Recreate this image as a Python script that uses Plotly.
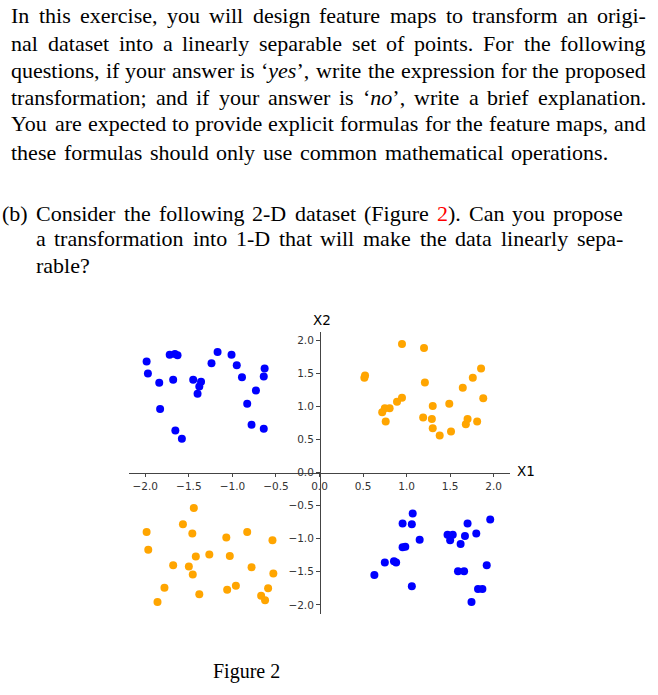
import plotly.graph_objects as go
import re

# ---------------- data ----------------
blue_x = [-1.985, -1.97, -1.84, -1.83, -1.72, -1.66, -1.63, -1.68, -1.655, -1.58,
          -1.45, -1.36, -1.38, -1.40, -1.24, -1.17, -1.01, -0.95, -0.89, -0.83,
          -0.73, -0.78, -0.63, -0.64, -0.64,
          0.63, 0.75, 0.855, 0.88, 0.954, 1.06, 1.07, 1.15, 0.954, 0.985,
          1.06, 1.47, 1.50, 1.53, 1.62, 1.67, 1.70, 1.59, 1.66, 1.80,
          1.96, 1.92, 1.82, 1.87, 1.745]
blue_y = [1.677, 1.495, 1.354, 0.96, 1.78, 1.79, 1.77, 1.40, 0.636, 0.51,
          1.40, 1.37, 1.30, 1.19, 1.65, 1.82, 1.78, 1.62, 1.44, 1.04,
          1.24, 0.72, 1.57, 1.45, 0.66,
          -1.55, -1.36, -1.34, -1.36, -0.77, -0.78, -0.62, -1.015, -1.13, -1.12,
          -1.72, -0.94, -1.025, -0.94, -1.08, -0.96, -0.77, -1.49, -1.49, -0.92,
          -0.71, -1.40, -1.76, -1.76, -1.955]

orange_x = [0.523, 0.515, 0.947, 1.20, 1.21, 0.72, 0.75, 0.805, 0.76, 0.89,
            0.947, 1.30, 1.19, 1.29, 1.30, 1.38, 1.49, 1.51, 1.645, 1.68,
            1.70, 1.76, 1.81, 1.855, 1.88,
            -1.443, -1.568, -1.46, -1.985, -1.966, -1.42, -1.265, -1.68, -1.50, -1.455,
            -1.78, -1.86, -1.38, -1.07, -1.03, -0.83, -0.78, -1.06, -0.96, -0.67,
            -0.625, -0.59, -0.54, -0.53]
orange_y = [1.465, 1.43, 1.94, 1.88, 1.36, 0.91, 0.97, 0.97, 0.77, 1.07,
            1.13, 1.005, 0.83, 0.81, 0.67, 0.56, 1.04, 0.62, 1.28, 0.73,
            0.81, 1.43, 0.77, 1.57, 1.12,
            -0.535, -0.783, -0.92, -0.90, -1.167, -1.27, -1.24, -1.40, -1.42, -1.54,
            -1.74, -1.955, -1.84, -0.98, -1.26, -0.90, -1.43, -1.77, -1.71, -1.86,
            -1.93, -1.75, -1.025, -1.525]

tick_vals = [-2.0, -1.5, -1.0, -0.5, 0.0, 0.5, 1.0, 1.5, 2.0]
tick_text = [("\u2212%.1f" % abs(v)) if v < 0 else "%.1f" % v for v in tick_vals]

para_lines = [
    "In this exercise, you will design feature maps to transform an origi-",
    "nal dataset into a linearly separable set of points. For the following",
    "questions, if your answer is \u2018<i>yes</i>\u2019, write the expression for the proposed",
    "transformation; and if your answer is \u2018<i>no</i>\u2019, write a brief explanation.",
    "You are expected to provide explicit formulas for the feature maps, and",
    "these formulas should only use common mathematical operations.",
]
item_label = "(b)"
item_lines = [
    "Consider the following 2-D dataset (Figure <span style='color:red'>2</span>). Can you propose",
    "a transformation into 1-D that will make the data linearly sepa-",
    "rable?",
]
caption = "Figure 2"
x_label = "X1"
y_label = "X2"

# ---------------- layout helpers ----------------
W, H = 658, 695
FS = 22
TIMES = {
    'a': 444, 'b': 500, 'c': 444, 'd': 500, 'e': 444, 'f': 333, 'g': 500, 'h': 500,
    'i': 278, 'j': 278, 'k': 500, 'l': 278, 'm': 778, 'n': 500, 'o': 500, 'p': 500,
    'q': 500, 'r': 333, 's': 389, 't': 278, 'u': 500, 'v': 500, 'w': 722, 'x': 500,
    'y': 500, 'z': 444, ' ': 250, ',': 250, '.': 250, '-': 333, ';': 278, '?': 444,
    '(': 333, ')': 333, '\u2018': 333, '\u2019': 333, 'I': 333, 'Y': 722, 'C': 667,
    'F': 556, 'D': 722, '1': 500, '2': 500,
}


def tw(word, size=FS):
    plain = re.sub(r"<[^>]+>", "", word)
    return sum(TIMES.get(ch, 500) for ch in plain) * size / 1000.0


def tokenize(line):
    # split on spaces but keep html span tags intact
    return re.split(r" (?![^<]*>)", line)


annotations = []


def add_text(text, px, py, size=FS, family="Liberation Serif", xanchor="left"):
    annotations.append(dict(
        text=text, x=px / W, y=1 - py / H, xref="paper", yref="paper",
        xanchor=xanchor, yanchor="middle", showarrow=False, borderpad=0,
        font=dict(family=family, size=size, color="black")))


def add_justified(line, x0, x1, py):
    words = tokenize(line)
    widths = [tw(w) for w in words]
    gap = (x1 - x0 - sum(widths)) / (len(words) - 1)
    x = x0
    for w, wd in zip(words, widths):
        add_text(w, x, py)
        x += wd + gap


para_y = [16, 43, 70, 97, 124, 152]
para_right = [645, 645, 645, 645, 645, 607]
for i, line in enumerate(para_lines):
    add_justified(line, 10, para_right[i], para_y[i])

add_text(item_label, 1, 214)
item_y = [214, 239, 265]
for i, line in enumerate(item_lines):
    if i < len(item_lines) - 1:
        add_justified(line, 35, 622, item_y[i])
    else:
        add_text(line, 35, item_y[i])

add_text(caption, 246, 671, size=20, family="Liberation Serif", xanchor="center")

# ---------------- figure ----------------
x_left, x_right = 129, 510
x_zero = 319.5
x_scale = 87.1
y_top, y_bot = 332, 614
y_zero = 472.5
y_scale = 66.2

x_range = [(x_left - x_zero) / x_scale, (x_right - x_zero) / x_scale]
y_range = [-(y_bot - y_zero) / y_scale, (y_zero - y_top) / y_scale]

fig = go.Figure()
fig.add_trace(go.Scatter(x=blue_x, y=blue_y, mode="markers",
                         marker=dict(color="#0000ff", size=8, line=dict(width=0)),
                         showlegend=False, hoverinfo="skip"))
fig.add_trace(go.Scatter(x=orange_x, y=orange_y, mode="markers",
                         marker=dict(color="#ffa500", size=8, line=dict(width=0)),
                         showlegend=False, hoverinfo="skip"))

axis_common = dict(
    showline=True, linecolor="#444", linewidth=1, ticks="outside", ticklen=3.5,
    tickwidth=0.8, tickcolor="#444", showgrid=False, zeroline=False,
    tickvals=tick_vals, ticktext=tick_text,
    tickfont=dict(family="DejaVu Sans", size=10.5, color="#333"),
)

fig.update_layout(
    width=W, height=H, margin=dict(l=0, r=0, t=0, b=0),
    paper_bgcolor="white", plot_bgcolor="white",
    xaxis=dict(domain=[x_left / W, x_right / W], range=x_range, anchor="free",
               position=1 - y_zero / H, **axis_common),
    yaxis=dict(domain=[1 - y_bot / H, 1 - y_top / H], range=y_range, anchor="free",
               position=x_zero / W, **axis_common),
    annotations=annotations,
)

fig.add_annotation(text=x_label, x=515 / W, y=1 - 471 / H, xref="paper", yref="paper",
                   xanchor="left", yanchor="middle", showarrow=False,
                   font=dict(family="DejaVu Sans", size=13.5, color="black"))
fig.add_annotation(text=y_label, x=x_zero / W + 0.004, y=1 - 320 / H, xref="paper", yref="paper",
                   xanchor="center", yanchor="middle", showarrow=False,
                   font=dict(family="DejaVu Sans", size=13.5, color="black"))

fig.write_html("out.html")
